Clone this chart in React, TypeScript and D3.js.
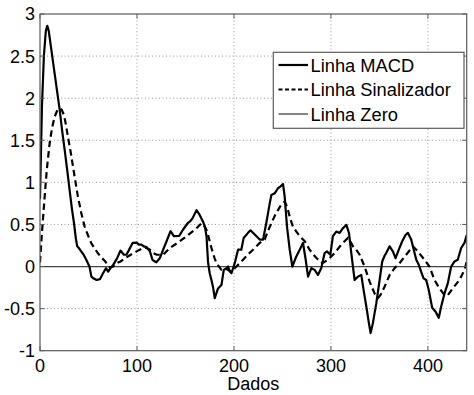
import * as d3 from "d3";

const width = 474;
const height = 395;

const xTicks = [0, 100, 200, 300, 400];
const yTicks = [-1, -0.5, 0, 0.5, 1, 1.5, 2, 2.5, 3];
const yTickLabels = ["-1", "-0.5", "0", "0.5", "1", "1.5", "2", "2.5", "3"];
const legendLabels = ["Linha MACD", "Linha Sinalizador", "Linha Zero"];
const xLabel = "Dados";

// MACD line
const macdX = [
  0, 2, 4, 6, 7.5, 9, 12, 15, 18, 20.3, 23, 25.4, 28, 30.5, 33, 35, 37, 38.4, 40,
  42.5, 45, 47.7, 51, 53, 55, 58.4, 61.8, 65, 68, 70.3, 72, 75.5, 79.6, 83, 86.5,
  89, 91, 95.5, 99.6, 102, 104.7, 107, 110, 113.3, 116, 118.5, 120, 123.6, 127,
  130.5, 134.6, 138, 143.5, 147.6, 152.7, 155, 157.2, 161.4, 164.8, 168.2, 170,
  171.7, 173.3, 175, 176.8, 178.5, 180.2, 181.5, 183.6, 187.1, 189.5, 192.3, 194,
  195.7, 197.4, 200.8, 204.2, 207.6, 210, 214.5, 217, 221.4, 226.6, 230, 233.4,
  236.9, 238.6, 242, 245.4, 247.9, 250.6, 252.3, 254.7, 257.5, 260.2, 264.3,
  267.8, 271.2, 274, 276.4, 279.8, 283.2, 286.6, 290, 293.5, 295.9, 299.4, 302,
  305.5, 309, 312.4, 315.9, 318.6, 321, 324.4, 327.9, 331.3, 333.7, 336.5, 339.1,
  340.9, 343.3, 346.8, 350.2, 352.9, 355, 357, 360.5, 363.9, 366.6, 370, 373.5,
  376.9, 379.3, 382.8, 384.5, 388, 390.6, 393, 395.5, 398.2, 400.9, 404.4, 407.8,
  411.2, 413.7, 417.1, 420.5, 424, 427.4, 430.8, 434.3, 437.7, 440,
];
const macdY = [
  0.8, 1.9, 2.5, 2.8, 2.86, 2.8, 2.55, 2.3, 2.05, 1.86, 1.6, 1.39, 1.15, 0.91,
  0.68, 0.52, 0.33, 0.24, 0.22, 0.18, 0.14, 0.08, 0, -0.12, -0.14, -0.16, -0.15,
  -0.08, -0.02, -0.06, -0.03, 0.02, 0.1, 0.19, 0.14, 0.14, 0.18, 0.28, 0.285,
  0.26, 0.26, 0.24, 0.23, 0.18, 0.08, 0.06, 0.05, 0.1, 0.2, 0.3, 0.42, 0.36,
  0.365, 0.44, 0.52, 0.54, 0.57, 0.67, 0.61, 0.53, 0.475, 0.36, 0.05, -0.08,
  -0.16, -0.25, -0.375, -0.33, -0.26, -0.22, -0.04, -0.02, 0, -0.06, -0.08, 0.04,
  0.2, 0.2, 0.34, 0.4, 0.43, 0.38, 0.32, 0.32, 0.52, 0.75, 0.85, 0.87, 0.93, 0.95,
  0.98, 0.83, 0.475, 0.2, 0, 0.12, 0.2, 0.28, 0.08, -0.12, -0.02, -0.04, -0.1,
  -0.02, 0.16, 0.18, 0.14, 0.36, 0.415, 0.4, 0.455, 0.495, 0.4, 0.16, -0.16,
  -0.12, -0.1, -0.28, -0.475, -0.67, -0.79, -0.67, -0.435, -0.16, 0.06, 0.12,
  0.16, 0.24, 0.18, 0.1, 0.2, 0.3, 0.375, 0.4, 0.32, 0.24, 0.08, 0.02, -0.06,
  -0.14, -0.16, -0.28, -0.49, -0.535, -0.61, -0.475, -0.32, -0.2, 0, 0.06, 0.08,
  0.22, 0.28, 0.375,
];

// signal line
const signalX = [
  0, 2, 4.8, 7, 10, 12.5, 15.1, 18, 20.3, 22.5, 24.7, 26.5, 28.8, 31.5, 34, 36.5,
  39.1, 42.5, 46, 49.5, 52.8, 56, 59.7, 63, 66.6, 70, 72, 75.5, 79, 83, 89.3, 95,
  99.6, 106.4, 110, 113.3, 116.7, 120.2, 127, 133.9, 144.2, 152.7, 161.4, 166.5,
  169, 171.7, 173.3, 176.8, 180, 182, 187.1, 192.3, 197.4, 202.5, 207, 211, 215,
  219.7, 226.6, 231.7, 235, 238.6, 242, 245.4, 249, 252.3, 254, 255.7, 258, 260.8,
  264, 267.8, 273, 278, 282, 286, 291.2, 297, 303.8, 310.7, 317.5, 320, 322.7,
  326, 329.6, 334.7, 339.9, 345, 348.4, 351, 355.3, 360.5, 365.6, 370.7, 377.6,
  384.5, 389.6, 396.5, 401.6, 406.8, 411.9, 417.1, 420.5, 425.6, 432.5, 437.7,
  440,
];
const signalY = [
  0.05, 0.4, 0.83, 1.15, 1.47, 1.65, 1.78, 1.86, 1.88, 1.86, 1.8, 1.7, 1.54, 1.37,
  1.19, 1.01, 0.83, 0.64, 0.475, 0.37, 0.28, 0.22, 0.16, 0.11, 0.07, 0.02, -0.01,
  0, 0.04, 0.06, 0.11, 0.15, 0.18, 0.22, 0.22, 0.2, 0.16, 0.14, 0.14, 0.22, 0.3,
  0.375, 0.455, 0.515, 0.49, 0.435, 0.375, 0.22, 0.1, 0.04, -0.04, -0.03, -0.06,
  0, 0.05, 0.1, 0.15, 0.2, 0.28, 0.32, 0.42, 0.515, 0.6, 0.67, 0.74, 0.77, 0.73,
  0.67, 0.57, 0.475, 0.42, 0.36, 0.3, 0.2, 0.14, 0.09, 0.04, 0.08, 0.16, 0.26,
  0.34, 0.3, 0.24, 0.2, 0.14, 0, -0.18, -0.32, -0.375, -0.34, -0.24, -0.1, -0.02,
  0.04, 0.14, 0.24, 0.18, 0.08, 0, -0.16, -0.26, -0.34, -0.34, -0.26, -0.16,
  -0.04, 0.06,
];

const font = "'Liberation Sans', Arial, Helvetica, sans-serif";
const axisColor = "#5a5a5a";

export default function App() {
  const x0 = 40;
  const x1 = 466.7;
  const y0 = 350.7;
  const y1 = 14;

  const xScale = d3.scaleLinear().domain([0, 440]).range([x0, x1]);
  const yScale = d3.scaleLinear().domain([-1, 3]).range([y0, y1]);

  const toPath = (xs: number[], ys: number[]) =>
    d3
      .line<number>()
      .x((_, i) => xScale(xs[i]))
      .y((_, i) => yScale(ys[i]))(xs) ?? "";

  const tickLen = 4.5;
  const legend = { x: 273.3, y: 52.3, w: 190.7, h: 76 };
  const rowY = [65, 89.5, 114];

  return (
    <svg
      width={width}
      height={height}
      style={{ position: "absolute", left: 0, top: 0, background: "#fff" }}
      fontFamily={font}
    >
      <defs>
        <clipPath id="plot-clip">
          <rect x={x0} y={y1} width={x1 - x0} height={y0 - y1} />
        </clipPath>
      </defs>

      {/* grid */}
      <g stroke="#999" strokeWidth={1} strokeDasharray="1,2.5">
        {xTicks.slice(1).map((t) => (
          <line key={`gx${t}`} x1={xScale(t)} x2={xScale(t)} y1={y0} y2={y1} />
        ))}
        {yTicks.slice(1, -1).map((t) => (
          <line key={`gy${t}`} x1={x0} x2={x1} y1={yScale(t)} y2={yScale(t)} />
        ))}
      </g>

      {/* zero line */}
      <line
        x1={x0}
        x2={x1}
        y1={yScale(0)}
        y2={yScale(0)}
        stroke="#444"
        strokeWidth={1.2}
      />

      <g clipPath="url(#plot-clip)" fill="none">
        <path
          d={toPath(signalX, signalY)}
          stroke="#000"
          strokeWidth={2.2}
          strokeDasharray="6.5,4"
        />
        <path
          d={toPath(macdX, macdY)}
          stroke="#000"
          strokeWidth={2.2}
          strokeLinejoin="round"
        />
      </g>

      {/* axes box and ticks */}
      <rect
        x={x0}
        y={y1}
        width={x1 - x0}
        height={y0 - y1}
        fill="none"
        stroke={axisColor}
        strokeWidth={1.2}
      />
      <g stroke={axisColor} strokeWidth={1}>
        {xTicks.map((t) => (
          <g key={`tx${t}`}>
            <line x1={xScale(t)} x2={xScale(t)} y1={y0} y2={y0 - tickLen} />
            <line x1={xScale(t)} x2={xScale(t)} y1={y1} y2={y1 + tickLen} />
          </g>
        ))}
        {yTicks.map((t) => (
          <g key={`ty${t}`}>
            <line x1={x0} x2={x0 + tickLen} y1={yScale(t)} y2={yScale(t)} />
            <line x1={x1} x2={x1 - tickLen} y1={yScale(t)} y2={yScale(t)} />
          </g>
        ))}
      </g>

      {/* tick labels */}
      <g fontSize={18} fill="#000">
        {yTicks.map((t, i) => (
          <text
            key={`ly${t}`}
            x={35}
            y={yScale(t)}
            dy="0.36em"
            textAnchor="end"
          >
            {yTickLabels[i]}
          </text>
        ))}
        {xTicks.map((t) => (
          <text key={`lx${t}`} x={xScale(t)} y={372} textAnchor="middle">
            {t}
          </text>
        ))}
        <text x={(x0 + x1) / 2} y={390} textAnchor="middle">
          {xLabel}
        </text>
      </g>

      {/* legend */}
      <g>
        <rect
          x={legend.x}
          y={legend.y}
          width={legend.w}
          height={legend.h}
          fill="#fff"
          stroke={axisColor}
          strokeWidth={1.2}
        />
        {legendLabels.map((label, i) => (
          <g key={label}>
            <line
              x1={278.5}
              x2={308}
              y1={rowY[i]}
              y2={rowY[i]}
              stroke={i === 2 ? "#333" : "#000"}
              strokeWidth={i === 2 ? 1.2 : 2.2}
              strokeDasharray={i === 1 ? "4,2.5" : undefined}
            />
            <text x={310.5} y={rowY[i]} dy="0.36em" fontSize={18.3}>
              {label}
            </text>
          </g>
        ))}
      </g>
    </svg>
  );
}
